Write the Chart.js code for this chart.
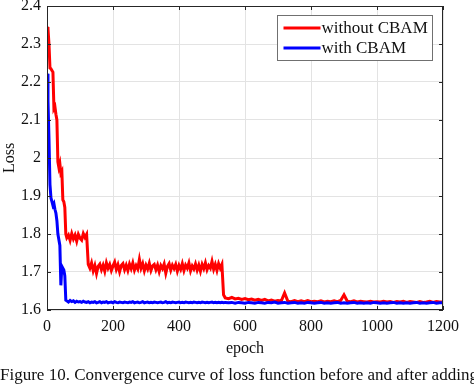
<!DOCTYPE html>
<html>
<head>
<meta charset="utf-8">
<script src="https://cdn.jsdelivr.net/npm/chart.js@4"></script>
<style>
  html, body { margin: 0; padding: 0; background: #fff; overflow: hidden; }
  #wrap { position: relative; width: 474px; height: 384px; overflow: hidden; }
  #caption { position: absolute; left: 0; top: 365px; white-space: nowrap;
    font-family: "Liberation Serif", "Times New Roman", serif; font-size: 17px; color: #111; }
</style>
</head>
<body>
<div id="wrap">
  <canvas id="c" width="474" height="384"></canvas>
  <div id="caption">Figure 10. Convergence curve of loss function before and after adding</div>
</div>
<script>
const seriesNames = ['without CBAM', 'with CBAM'];

const epochs = [
  1,3,6,9,12,15,18,21,24,27,30,33,36,39,42,45,48,51,54,57,
  60,65,70,75,80,85,90,95,100,105,
  110,115,120,125,130,135,140,145,150,155,
  160,165,170,175,180,185,190,195,200,205,
  210,215,220,225,230,235,240,245,250,255,
  260,265,270,275,280,285,290,295,300,305,
  310,315,320,325,330,335,340,345,350,355,
  360,365,370,375,380,385,390,395,400,405,
  410,415,420,425,430,435,440,445,450,455,
  460,465,470,475,480,485,490,495,500,505,
  510,515,520,525,530,535,
  540,550,560,570,580,590,600,610,620,630,
  640,650,660,670,680,690,700,710,720,730,
  740,750,760,770,780,790,800,810,820,830,
  840,850,860,870,880,890,900,910,920,930,
  940,950,960,970,980,990,1000,1010,1020,1030,
  1040,1050,1060,1070,1080,1090,1100,1110,1120,1130,
  1140,1150,1160,1170,1180,1190,1200
];

const withoutCBAM = [
  2.345,2.340,2.300,2.237,2.235,2.230,2.226,2.130,2.135,2.115,2.100,1.990,1.975,1.985,1.960,1.965,1.890,1.885,1.870,1.800,
  1.790,1.797,1.783,1.801,1.787,1.797,1.781,1.799,1.789,1.784,
  1.801,1.791,1.799,1.720,1.710,1.724,1.703,1.717,1.696,1.715,
  1.721,1.706,1.718,1.702,1.724,1.710,1.720,1.704,1.716,1.726,
  1.707,1.719,1.701,1.717,1.722,1.706,1.718,1.704,1.721,1.709,
  1.724,1.705,1.717,1.708,1.733,1.710,1.722,1.703,1.718,1.708,
  1.723,1.704,1.716,1.720,1.706,1.718,1.701,1.717,1.709,1.721,
  1.697,1.715,1.722,1.705,1.718,1.709,1.720,1.702,1.717,1.707,
  1.722,1.704,1.718,1.710,1.724,1.703,1.716,1.708,1.721,1.705,
  1.718,1.702,1.720,1.709,1.724,1.706,1.717,1.710,1.728,1.707,
  1.720,1.704,1.722,1.710,1.720,1.640,
  1.632,1.630,1.633,1.629,1.631,1.628,1.630,1.627,1.629,1.626,
  1.628,1.625,1.628,1.624,1.626,1.623,1.625,1.624,1.645,1.623,
  1.622,1.625,1.622,1.624,1.622,1.625,1.622,1.623,1.622,1.624,
  1.621,1.623,1.622,1.624,1.622,1.625,1.640,1.623,1.622,1.624,
  1.621,1.623,1.622,1.621,1.623,1.621,1.622,1.621,1.623,1.621,
  1.622,1.620,1.622,1.621,1.623,1.620,1.622,1.621,1.620,1.622,
  1.620,1.621,1.623,1.620,1.622,1.621,1.621
];

const withCBAM = [
  2.222,2.150,2.050,1.930,1.895,1.885,1.875,1.880,1.865,1.855,1.835,1.800,1.785,1.770,1.665,1.715,1.710,1.705,1.690,1.626,
  1.624,1.621,1.625,1.622,1.624,1.620,1.623,1.621,1.622,1.620,
  1.623,1.621,1.620,1.622,1.619,1.621,1.620,1.622,1.619,1.620,
  1.622,1.619,1.621,1.620,1.622,1.619,1.620,1.621,1.619,1.622,
  1.620,1.619,1.621,1.620,1.619,1.621,1.620,1.619,1.621,1.620,
  1.622,1.619,1.620,1.621,1.619,1.620,1.622,1.619,1.620,1.621,
  1.619,1.620,1.619,1.621,1.620,1.619,1.620,1.621,1.619,1.620,
  1.622,1.619,1.620,1.619,1.621,1.620,1.619,1.620,1.621,1.619,
  1.620,1.619,1.621,1.620,1.619,1.620,1.619,1.621,1.620,1.619,
  1.620,1.619,1.621,1.620,1.619,1.620,1.619,1.620,1.621,1.619,
  1.620,1.619,1.620,1.619,1.620,1.619,
  1.620,1.619,1.620,1.618,1.620,1.619,1.618,1.620,1.619,1.618,
  1.620,1.619,1.618,1.620,1.619,1.621,1.618,1.619,1.620,1.618,
  1.619,1.620,1.618,1.619,1.618,1.620,1.619,1.618,1.619,1.620,
  1.618,1.619,1.618,1.619,1.620,1.618,1.619,1.618,1.619,1.620,
  1.618,1.619,1.618,1.619,1.618,1.620,1.619,1.618,1.619,1.618,
  1.619,1.620,1.618,1.619,1.618,1.619,1.618,1.619,1.620,1.618,
  1.619,1.618,1.619,1.620,1.618,1.619,1.619
];

const xTitle = 'epoch';
const yTitle = 'Loss';

const FONT = '"Liberation Serif", "Times New Roman", serif';
const toPts = arr => epochs.map((e, i) => ({ x: e, y: arr[i] }));

const framePlugin = {
  id: 'frame',
  afterDatasetsDraw(chart) {
    const { ctx, chartArea: a, scales: { x, y } } = chart;
    ctx.save();
    ctx.strokeStyle = '#262626';
    ctx.lineWidth = 1;
    ctx.strokeRect(Math.round(a.left) + 0.5, Math.round(a.top) + 0.5,
                   Math.round(a.right - a.left) - 1, Math.round(a.bottom - a.top) - 1);
    ctx.beginPath();
    x.ticks.forEach(t => {
      const px = Math.round(x.getPixelForValue(t.value)) + 0.5;
      ctx.moveTo(px, a.bottom); ctx.lineTo(px, a.bottom - 4);
      ctx.moveTo(px, a.top); ctx.lineTo(px, a.top + 4);
    });
    y.ticks.forEach(t => {
      const py = Math.round(y.getPixelForValue(t.value)) + 0.5;
      ctx.moveTo(a.left, py); ctx.lineTo(a.left + 4, py);
      ctx.moveTo(a.right, py); ctx.lineTo(a.right - 4, py);
    });
    ctx.stroke();

    // legend inside plot (north-east)
    const bw = 155, bh = 45;
    const bx = Math.round(a.right - 11 - bw) + 0.5;
    const by = Math.round(a.top + 9) + 0.5;
    ctx.fillStyle = '#fff';
    ctx.fillRect(bx, by, bw, bh);
    ctx.strokeStyle = '#707070';
    ctx.strokeRect(bx, by, bw, bh);
    const items = chart.data.datasets.slice().sort((p, q) => p.legendIndex - q.legendIndex);
    items.forEach((ds, i) => {
      const ly = by + 12.5 + i * 20;
      ctx.strokeStyle = ds.borderColor;
      ctx.lineWidth = 3;
      ctx.beginPath();
      ctx.moveTo(bx + 6, ly); ctx.lineTo(bx + 43, ly);
      ctx.stroke();
      ctx.fillStyle = '#111';
      ctx.font = '17px ' + FONT;
      ctx.textBaseline = 'middle';
      ctx.textAlign = 'left';
      ctx.fillText(ds.label, bx + 44, ly + 1);
    });
    ctx.restore();
  }
};

new Chart(document.getElementById('c'), {
  type: 'line',
  data: {
    datasets: [
      { label: seriesNames[0], data: toPts(withoutCBAM), borderColor: '#ff0000',
        borderWidth: 3, pointRadius: 0, tension: 0, order: 2, legendIndex: 0 },
      { label: seriesNames[1], data: toPts(withCBAM), borderColor: '#0000ff',
        borderWidth: 3, pointRadius: 0, tension: 0, order: 1, legendIndex: 1 }
    ]
  },
  options: {
    responsive: false,
    animation: false,
    layout: { padding: { top: 6, right: 31, left: 0, bottom: 0 } },
    plugins: { legend: { display: false }, tooltip: { enabled: false } },
    scales: {
      x: {
        type: 'linear', min: 0, max: 1200,
        ticks: { stepSize: 200, padding: 7, color: '#111', maxRotation: 0,
                 font: { family: FONT, size: 16 },
                 callback: v => String(v) },
        grid: { color: '#e3e3e3', drawTicks: false },
        border: { display: false },
        title: { display: true, text: xTitle, color: '#111',
                 font: { family: FONT, size: 16 }, padding: { top: 0, bottom: 26 } },
        afterFit(s) { s.height = 74; s.paddingLeft = 0; s.paddingRight = 0; }
      },
      y: {
        min: 1.6, max: 2.4,
        ticks: { stepSize: 0.1, padding: 6, color: '#111',
                 font: { family: FONT, size: 16 },
                 callback: v => String(+v.toFixed(1)) },
        grid: { color: '#e3e3e3', drawTicks: false },
        border: { display: false },
        title: { display: true, text: yTitle, color: '#111',
                 font: { family: FONT, size: 16 }, padding: 0 },
        afterFit(s) { s.width = 47; s.paddingTop = 0; s.paddingBottom = 0; }
      }
    }
  },
  plugins: [framePlugin]
});
</script>
</body>
</html>
